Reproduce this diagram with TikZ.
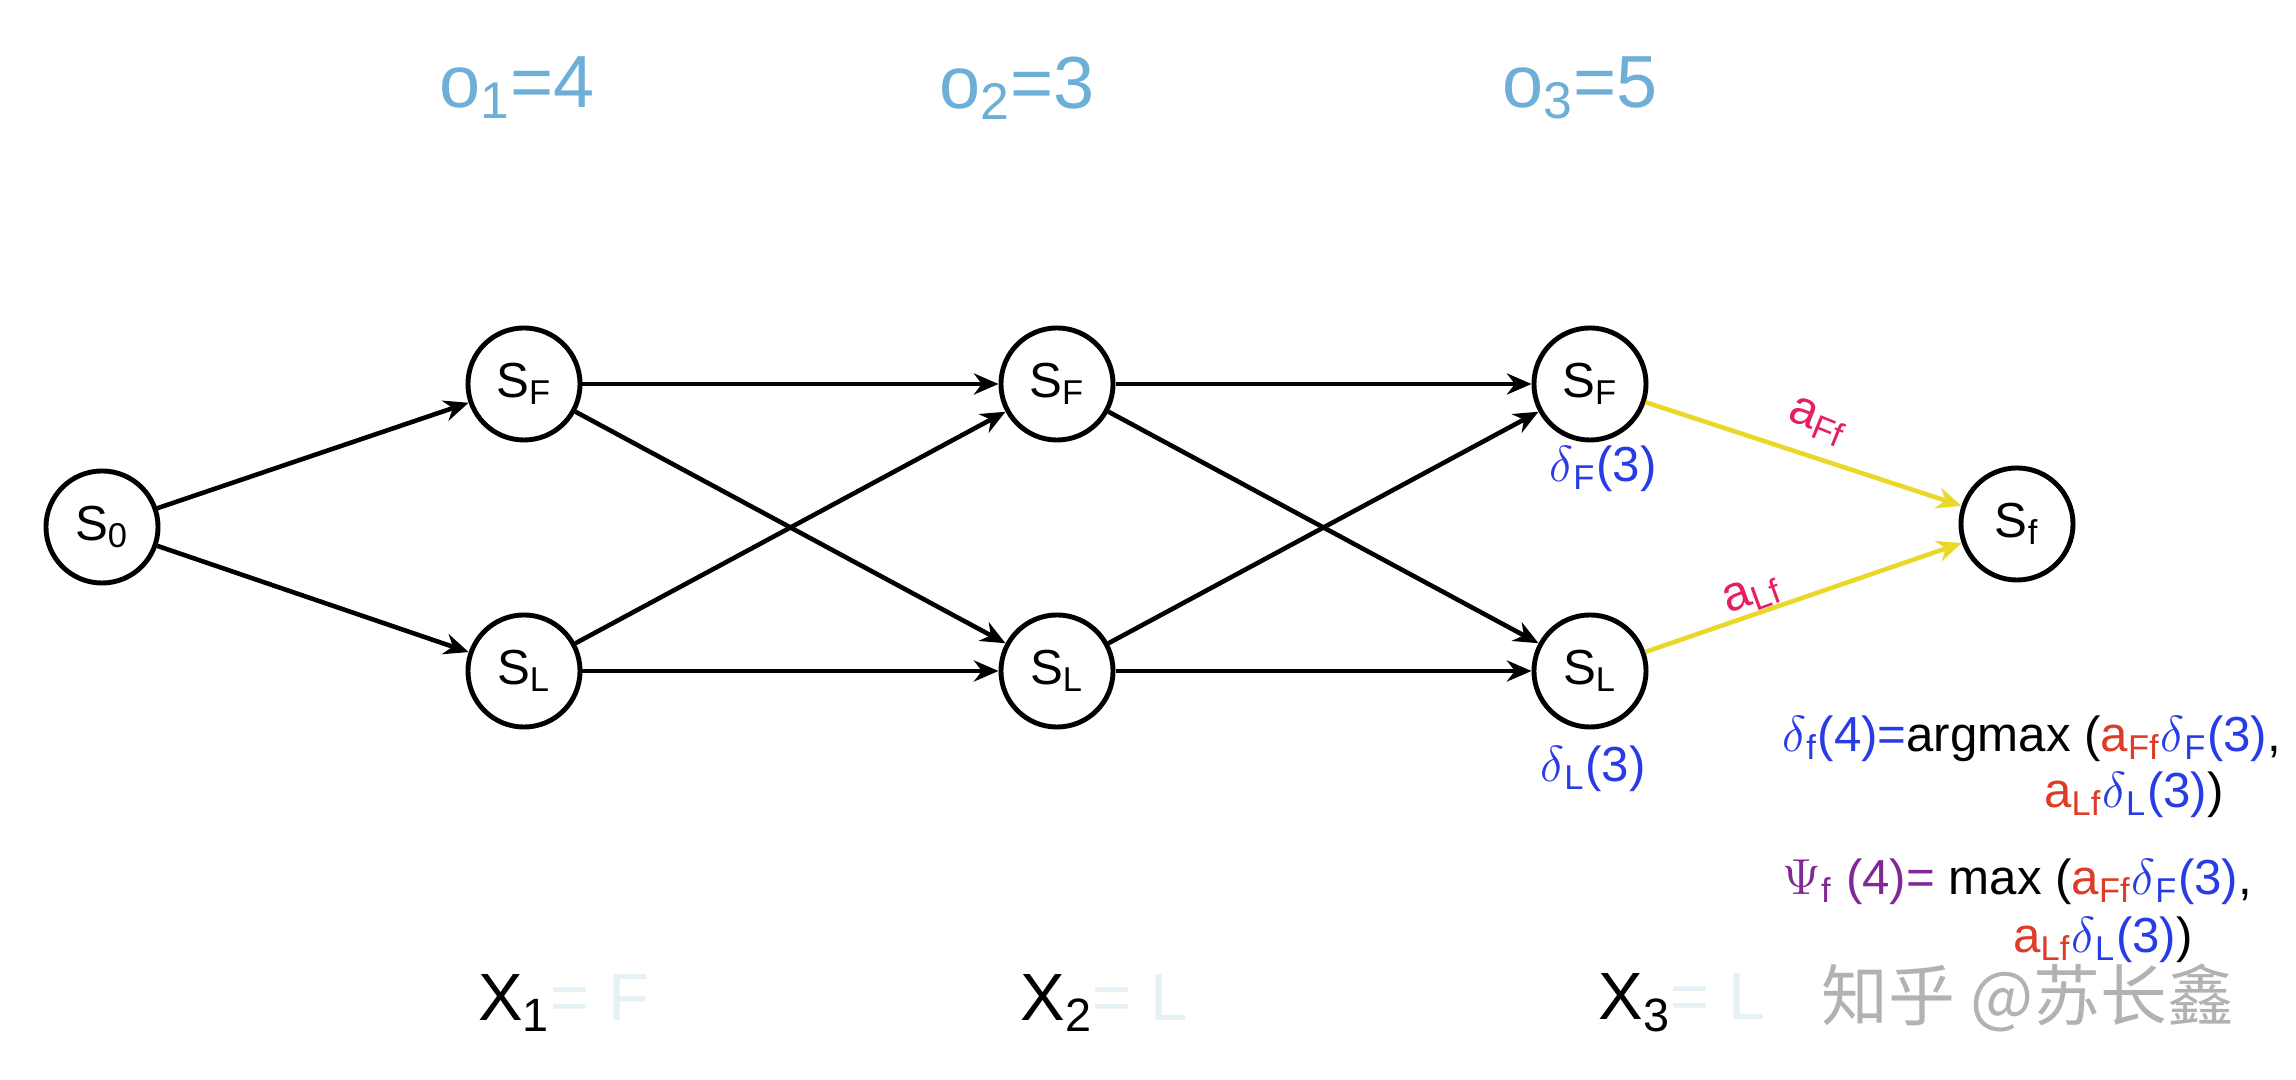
\documentclass[tikz,border=0pt]{standalone}
\usepackage{fontspec}
\setmainfont{Liberation Sans}
\newfontfamily\cjk{Noto Sans CJK SC}
\usepackage{xcolor}
\usetikzlibrary{arrows.meta,positioning}
\definecolor{obsblue}{RGB}{110,175,215}
\definecolor{delblue}{RGB}{40,60,230}
\definecolor{ared}{RGB}{220,60,40}
\definecolor{apink}{RGB}{230,30,100}
\definecolor{psipurple}{RGB}{130,40,150}
\definecolor{trans}{RGB}{235,215,40}
\definecolor{faint}{RGB}{228,242,246}
\newcommand{\sub}[1]{\textsubscript{#1}}
\begin{document}
\begin{tikzpicture}[
    x=0.01cm, y=-0.01cm,
    state/.style={circle, draw, line width=1.4pt, minimum size=1.12cm, inner sep=0pt, font=\fontsize{14}{14}\selectfont},
    arrow/.style={-{Stealth[length=7pt,width=6pt]}, line width=1.3pt},
    yarrow/.style={arrow, draw=trans},
    obs/.style={text=obsblue, font=\fontsize{21}{21}\selectfont},
    var/.style={font=\fontsize{19}{19}\selectfont},
    lbl/.style={font=\fontsize{14}{16}\selectfont}
]
    \useasboundingbox (0,0) rectangle (2296,1080);

    \node[obs] (o1) at (517,88) {o\sub{1}=4};
    \node[obs] (o2) at (1017,88) {o\sub{2}=3};
    \node[obs] (o3) at (1580,88) {o\sub{3}=5};

    \node[state] (s0) at (102,527) {S\sub{0}};
    \node[state] (f1) at (524,384) {S\sub{F}};
    \node[state] (l1) at (524,671) {S\sub{L}};
    \node[state] (f2) at (1057,384) {S\sub{F}};
    \node[state] (l2) at (1057,671) {S\sub{L}};
    \node[state] (f3) at (1590,384) {S\sub{F}};
    \node[state] (l3) at (1590,671) {S\sub{L}};
    \node[state] (sf) at (2017,524) {S\sub{f}};

    \draw[arrow] (s0) -- (f1);
    \draw[arrow] (s0) -- (l1);
    \draw[arrow] (f1) -- (f2);
    \draw[arrow] (f1) -- (l2);
    \draw[arrow] (l1) -- (f2);
    \draw[arrow] (l1) -- (l2);
    \draw[arrow] (f2) -- (f3);
    \draw[arrow] (f2) -- (l3);
    \draw[arrow] (l2) -- (f3);
    \draw[arrow] (l2) -- (l3);
    \draw[yarrow] (f3) -- (sf);
    \draw[yarrow] (l3) -- (sf);

    \node[lbl, text=apink, rotate=-22] (aff) at (1818,422) {a\sub{Ff}};
    \node[lbl, text=apink, rotate=20] (alf) at (1752,595) {a\sub{Lf}};
    \node[lbl, text=delblue] (df3) at (1603,469) {$\delta$\sub{F}(3)};
    \node[lbl, text=delblue] (dl3) at (1593,769) {$\delta$\sub{L}(3)};

    \node[lbl, anchor=base west] (eq1) at (1770,752) {\textcolor{delblue}{$\delta$\sub{f}(4)=}argmax (\textcolor{ared}{a\sub{Ff}}\textcolor{delblue}{$\delta$\sub{F}(3)},};
    \node[lbl, anchor=base east] (eq2) at (2236,808) {\textcolor{ared}{a\sub{Lf}}\textcolor{delblue}{$\delta$\sub{L}(3)})};
    \node[lbl, anchor=base west] (eq3) at (1770,895) {\textcolor{psipurple}{$\Psi$\sub{f} (4)=} max (\textcolor{ared}{a\sub{Ff}}\textcolor{delblue}{$\delta$\sub{F}(3)},};
    \node[lbl, anchor=base east] (eq4) at (2205,953) {\textcolor{ared}{a\sub{Lf}}\textcolor{delblue}{$\delta$\sub{L}(3)})};

    \node[var, anchor=west] (x1) at (466,1003) {X\sub{1}\textcolor{faint}{ = F}};
    \node[var, anchor=west] (x2) at (1008,1003) {X\sub{2}\textcolor{faint}{ = L}};
    \node[var, anchor=west] (x3) at (1586,1003) {X\sub{3}\textcolor{faint}{ = L}};

    \node[text=black!30, font=\cjk\fontsize{19}{19}\selectfont] (wm) at (2028,998) {知乎 @苏长鑫};
\end{tikzpicture}
\end{document}
